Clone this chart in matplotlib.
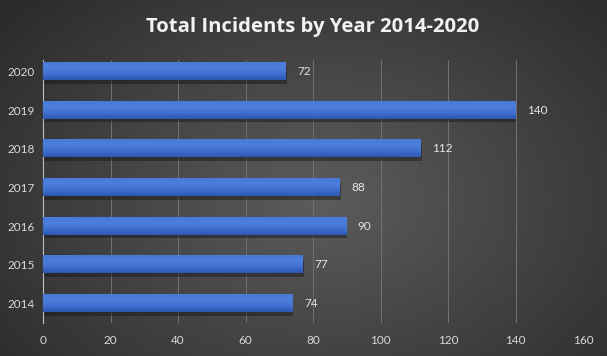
import numpy as np
import matplotlib.pyplot as plt
import matplotlib.patheffects as pe
from matplotlib.colors import LinearSegmentedColormap

years = ['2014', '2015', '2016', '2017', '2018', '2019', '2020']
incidents = [74, 77, 90, 88, 112, 140, 72]
xticks = [0, 20, 40, 60, 80, 100, 120, 140, 160]

plt.rcParams['font.family'] = ['Lato', 'DejaVu Sans']

fig = plt.figure(figsize=(6.07, 3.56), dpi=100)

# background: dark radial gradient
bg = fig.add_axes([0, 0, 1, 1], zorder=-10)
yy, xx = np.mgrid[0:356, 0:607]
r = np.sqrt(((xx - 320) / 420.0) ** 2 + ((yy - 200) / 300.0) ** 2)
r = np.clip(r, 0, 1)
bg_cmap = LinearSegmentedColormap.from_list('bg', ['#5c5c5c', '#2a2a2a'])
bg.imshow(r, cmap=bg_cmap, aspect='auto', extent=[0, 1, 0, 1], vmin=0, vmax=1)
bg.axis('off')

ax = fig.add_axes([43 / 607, 1 - 323 / 356, 540 / 607, 263 / 356])
ax.patch.set_alpha(0)

pos = np.arange(len(years))
bars = ax.barh(pos, incidents, height=0.44, color='#3f6bcc', zorder=3,
               path_effects=[pe.SimplePatchShadow(offset=(0.5, -2.5), shadow_rgbFace='#151515', alpha=0.45),
                             pe.Normal()])

# vertical gradient on each bar
bar_cmap = LinearSegmentedColormap.from_list('bar', ['#2d57b2', '#3f6fd0', '#4d7ede', '#4a7ad8'])
grad = np.linspace(0, 1, 64).reshape(-1, 1)
for b in bars:
    x0, y0, w, h = b.get_x(), b.get_y(), b.get_width(), b.get_height()
    ax.imshow(grad, cmap=bar_cmap, aspect='auto', origin='lower',
              extent=[x0, x0 + w, y0, y0 + h], zorder=4)

for p, v in zip(pos, incidents):
    ax.annotate(str(v), (v, p), xytext=(8, 0), textcoords='offset points',
                va='center', ha='left', color='#e6e6e6', fontsize=8.5, zorder=5)

ax.set_xlim(0, 160)
ax.set_ylim(-0.5, 6.3)
ax.set_xticks(xticks)
ax.set_yticks(pos)
ax.set_yticklabels(years)
ax.grid(axis='x', color='#727272', linewidth=0.7, zorder=0)
ax.set_axisbelow(True)
for s in ['top', 'right', 'bottom']:
    ax.spines[s].set_visible(False)
ax.spines['left'].set_color('#bfbfbf')
ax.spines['left'].set_linewidth(0.8)
ax.tick_params(length=0, colors='#d9d9d9', labelsize=8.5, pad=6)
ax.tick_params(axis='x', pad=9)

fig.text(0.515, 0.925, 'Total Incidents by Year 2014-2020', ha='center', va='center',
         color='#f2f2f2', fontsize=14.6, fontweight='bold', family=['Open Sans', 'DejaVu Sans'])

fig.savefig('out.png', dpi=100)
